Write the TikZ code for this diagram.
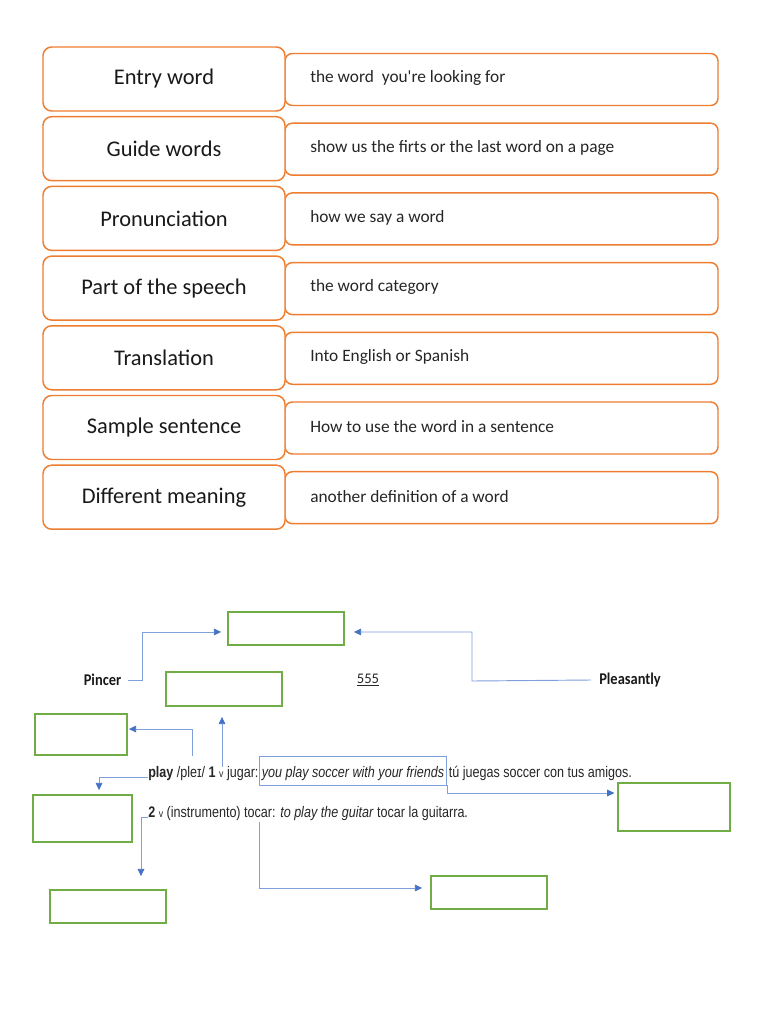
\documentclass[tikz,border=0pt]{standalone}
\usepackage{fontspec}
\setmainfont{Carlito}
\newfontfamily\arl[FakeStretch=0.82]{Liberation Sans}
\newfontfamily\carn[FakeStretch=0.88]{Carlito}
\usetikzlibrary{arrows.meta,calc}
\definecolor{org}{HTML}{ED7D31}
\definecolor{grn}{HTML}{70AD47}
\definecolor{blu}{HTML}{4472C4}
\definecolor{lblu}{HTML}{7FA0DC}
\begin{document}
\begin{tikzpicture}[x=0.75pt,y=-0.75pt,
 lbox/.style={draw=org, line width=1.1pt, rounded corners=6.5pt, fill=white, minimum width=181.5pt, minimum height=48pt, inner sep=0pt, font=\fontsize{16.8}{18}\selectfont, text=black!90},
 rbox/.style={draw=org, line width=1.1pt, rounded corners=5.5pt, fill=white, minimum width=324.75pt, minimum height=39pt, inner sep=0pt},
 rtext/.style={anchor=west, inner sep=0pt, font=\fontsize{13}{15}\selectfont, text=black!85},
 gbox/.style={draw=grn, line width=1.3pt, inner sep=0pt, fill=white},
 arr/.style={draw=lblu, line width=0.7pt, -{Triangle[length=5.5pt,width=5pt,color=blu]}},
 btext/.style={inner sep=0pt, anchor=base west, font=\arl\fontsize{11.5}{13}\selectfont, text=black!85},
 lbl/.style={inner sep=0pt, font=\carn\bfseries\fontsize{12.3}{14}\selectfont, text=black!90},
]
\useasboundingbox (0,0) rectangle (768,1024);
% right (definition) boxes
\node[rbox] (r1) at (501.5,79.5) {};
\node[rbox] (r2) at (501.5,149.2) {};
\node[rbox] (r3) at (501.5,218.9) {};
\node[rbox] (r4) at (501.5,288.6) {};
\node[rbox] (r5) at (501.5,358.3) {};
\node[rbox] (r6) at (501.5,428) {};
\node[rbox] (r7) at (501.5,497.7) {};
% left (term) boxes
\node[lbox] (l1) at (164,79) {Entry word};
\node[lbox] (l2) at (164,148.7) {Guide words};
\node[lbox] (l3) at (164,218.4) {Pronunciation};
\node[lbox] (l4) at (164,288.1) {Part of the speech};
\node[lbox] (l5) at (164,357.8) {Translation};
\node[lbox] (l6) at (164,427.5) {Sample sentence};
\node[lbox] (l7) at (164,497.2) {Different meaning};
% definitions
\node[rtext] (t1) at (310,78) {the word\ \ you\textquotesingle re looking for};
\node[rtext] (t2) at (310,147.7) {show us the firts or the last word on a page};
\node[rtext] (t3) at (310,217.4) {how we say a word};
\node[rtext] (t4) at (310,287.1) {the word category};
\node[rtext] (t5) at (310,356.8) {Into English or Spanish};
\node[rtext] (t6) at (310,426.5) {How to use the word in a sentence};
\node[rtext] (t7) at (310,496.2) {another definition of a word};

% lower part: green boxes
\node[gbox, minimum width=87pt, minimum height=24.75pt] (A) at (286,628.5) {};
\node[gbox, minimum width=87pt, minimum height=25.5pt] (B) at (224,689) {};
\node[gbox, minimum width=69pt, minimum height=30.75pt] (C) at (81,734.5) {};
\node[gbox, minimum width=84pt, minimum height=36pt] (D) at (674,807) {};
\node[gbox, minimum width=74.25pt, minimum height=35.25pt] (E) at (82.5,818.5) {};
\node[gbox, minimum width=87pt, minimum height=24.75pt] (F) at (108,906.5) {};
\node[gbox, minimum width=87pt, minimum height=24.75pt] (G) at (489,892.5) {};

% labels
\node[lbl] (pin) at (102.5,680) {Pincer};
\node[lbl] (pl) at (630,680) {Pleasantly};
\node[inner sep=0pt, font=\fontsize{11}{13}\selectfont, text=black!85] (n555) at (368,680) {\underline{555}};

% dictionary entry
\node[btext] (p1) at (148,777) {\textbf{play} /pleɪ/ \textbf{1} {\fontsize{8}{9}\selectfont v} jugar:};
\node[btext, draw=lblu, line width=0.6pt, inner xsep=2pt, text height=15.75pt, text depth=6pt] (p2) at (p1.base east) {\itshape you play soccer with your friends};
\node[btext] (p3) at ([xshift=1pt]p2.base east) {tú juegas soccer con tus amigos.};
\node[btext] (q1) at (148,817) {\textbf{2} {\fontsize{8}{9}\selectfont v} (instrumento) tocar: \textit{to play the guitar} tocar la guitarra.};

\coordinate (c1) at (192,756);
\coordinate (b1) at (222,767);
\coordinate (g1) at (259,822);

% connectors
\draw[arr] ([xshift=5pt]pin.east) -- ++(14,0) |- ([yshift=-2.6pt,xshift=-4.5pt]A.west);
\draw[arr] ([xshift=-6pt]pl.west) -- (472,681) |- ([yshift=-2.6pt,xshift=6.75pt]A.east);
\draw[arr] (c1) |- ([xshift=0.75pt,yshift=4.1pt]C.east);
\draw[arr, shorten >=7.5pt] (b1) -- (b1 |- B.south);
\draw[arr] (p2.south east) |- ([yshift=10.5pt,xshift=-2pt]D.west);
\draw[arr] (p1.base west) -| ([xshift=12.4pt,yshift=3pt]E.north);
\draw[arr] (q1.base west) -| ([xshift=24.75pt,yshift=9.75pt]F.north);
\draw[arr] (g1) |- ([xshift=-6pt,yshift=3.4pt]G.west);
\end{tikzpicture}
\end{document}
